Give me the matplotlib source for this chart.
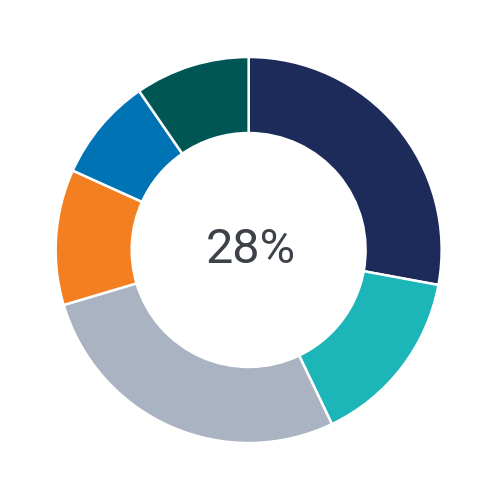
import matplotlib.pyplot as plt

# segment shares (%), clockwise from 12 o'clock
labels = ['A', 'B', 'C', 'D', 'E', 'F']
values = [27.9, 15.0, 27.5, 11.35, 8.65, 9.6]
colors = ['#1c2b5a', '#1cb5b8', '#a9b3c1', '#f47f20', '#0073b5', '#005555']
center_text = '28%'

fig = plt.figure(figsize=(5, 5), dpi=100)
ax = fig.add_axes([0, 0, 1, 1])
ax.pie(values, colors=colors, startangle=90, counterclock=False,
       radius=1, center=(0, 0),
       wedgeprops=dict(width=0.394, edgecolor='white', linewidth=1.8))
lim = 250 / 193
ax.set_xlim(-lim + 0.007, lim + 0.007)
ax.set_ylim(-lim, lim)
ax.set_aspect('equal')
ax.axis('off')
ax.text(0.01, 0, center_text, ha='center', va='center', fontsize=35,
        color='#3d4148', family='Roboto')

fig.savefig('out.png', dpi=100)
